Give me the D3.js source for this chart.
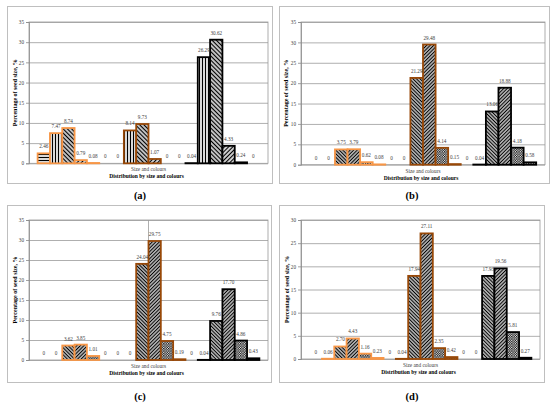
<!DOCTYPE html>
<html>
<head>
<meta charset="utf-8">
<script src="https://cdn.jsdelivr.net/npm/d3@7"></script>
<style>
  body { margin: 0; background: #fff; }
  text { font-family: "Liberation Serif", "Times New Roman", serif; }
</style>
</head>
<body>
<script>
// seed size fractions (6) inside each colour group (orange, brown, black)
var colourGroups = ["orange", "brown", "black"];
var groupColours = ["#f79646", "#984807", "#000000"];
var panelCaptions = ["(a)", "(b)", "(c)", "(d)"];

var valuesA = [[2.46, 7.47, 8.74, 0.79, 0.08, 0],
               [0, 8.14, 9.73, 1.07, 0, 0],
               [0.04, 26.29, 30.62, 4.33, 0.24, 0]];
var valuesB = [[0, 0, 3.75, 3.79, 0.62, 0.08],
               [0, 0, 21.29, 29.48, 4.14, 0.15],
               [0, 0.04, 13.06, 18.88, 4.18, 0.58]];
var valuesC = [[0, 0, 3.62, 3.85, 1.01, 0],
               [0, 0, 24.04, 29.75, 4.75, 0.19],
               [0, 0.04, 9.76, 17.70, 4.86, 0.43]];
var valuesD = [[0, 0.06, 2.70, 4.43, 1.16, 0.23],
               [0, 0.04, 17.94, 27.11, 2.35, 0.42],
               [0, 0, 17.93, 19.56, 5.81, 0.27]];

var yMaxes = [35, 35, 35, 30];
var xTickLabel = "Size and colours";
var xTitle = "Distribution by size and colours";
var yTitle = "Percentage of seed size, %";

var allValues = [valuesA, valuesB, valuesC, valuesD];

// fill pattern per size fraction
var patternsA = ["hz", "vt", "dd", "du", "dots", "dots"];
var patternsBCD = ["hz", "vt", "dd2", "du2", "dots", "dots"];

var layout = [
  {frame: [7, 6, 272, 183],   plot: [29, 22, 268, 163.3],  cap: [140, 198.5], yt: 15},
  {frame: [279, 6, 549, 183], plot: [301, 22, 545, 164.7], cap: [412, 198.5], yt: 286},
  {frame: [7, 205, 271, 382], plot: [29, 220, 268, 360],  cap: [140, 399.5], yt: 15},
  {frame: [279, 205, 544, 382], plot: [301, 220, 540, 359], cap: [412, 399.5], yt: 287}
];

var svg = d3.select("body").append("svg")
    .attr("width", 550)
    .attr("height", 405);

var defs = svg.append("defs");

function linePattern(id, size, angle, sw) {
  var p = defs.append("pattern")
      .attr("id", id)
      .attr("patternUnits", "userSpaceOnUse")
      .attr("width", size).attr("height", size);
  if (angle !== null) p.attr("patternTransform", "rotate(" + angle + ")");
  p.append("rect").attr("width", size).attr("height", size).attr("fill", "#fff");
  p.append("line")
      .attr("x1", size / 2).attr("x2", size / 2)
      .attr("y1", 0).attr("y2", size)
      .attr("stroke", "#000").attr("stroke-width", sw);
}
linePattern("vt", 3, null, 1.3);
linePattern("hz", 3, 90, 1.3);
linePattern("dd", 3, -45, 1.5);
linePattern("du", 3, 45, 1.4);
linePattern("dd2", 2.5, -45, 1.4);
linePattern("du2", 2.5, 45, 1.4);

var dots = defs.append("pattern")
    .attr("id", "dots")
    .attr("patternUnits", "userSpaceOnUse")
    .attr("width", 2.4).attr("height", 2.4);
dots.append("rect").attr("width", 2.4).attr("height", 2.4).attr("fill", "#fff");
dots.append("rect").attr("width", 1.3).attr("height", 1.3).attr("fill", "#000");
dots.append("rect").attr("x", 1.2).attr("y", 1.2).attr("width", 1.3).attr("height", 1.3).attr("fill", "#000");

var fmt = function(v) { return v === 0 ? "0" : v.toFixed(2); };

allValues.forEach(function(vals, pi) {
  var L = layout[pi];
  var pl = L.plot[0], pt = L.plot[1], pr = L.plot[2], pb = L.plot[3];
  var pats = pi === 0 ? patternsA : patternsBCD;

  // flatten into 18 slots
  var slots = [];
  vals.forEach(function(row, g) {
    row.forEach(function(v, s) {
      slots.push({v: v, g: g, s: s});
    });
  });

  var g = svg.append("g");

  g.append("rect")
      .attr("x", L.frame[0] + 0.5).attr("y", L.frame[1] + 0.5)
      .attr("width", L.frame[2] - L.frame[0]).attr("height", L.frame[3] - L.frame[1])
      .attr("fill", "#fff").attr("stroke", "#bfbfbf").attr("stroke-width", 1);

  var x = d3.scaleBand()
      .domain(d3.range(slots.length))
      .range([pl, pr])
      .paddingInner(0)
      .paddingOuter(0.7);

  var y = d3.scaleLinear()
      .domain([0, yMaxes[pi]])
      .range([pb, pt]);

  var ticks = d3.range(0, yMaxes[pi] + 1, 5);

  // gridlines
  g.append("g")
      .attr("transform", "translate(" + pl + ",0)")
      .call(d3.axisLeft(y).tickValues(ticks).tickSize(-(pr - pl)).tickFormat(""))
      .call(function(a) {
        a.select(".domain").remove();
        a.selectAll("line").attr("stroke", "#9a9a9a").attr("stroke-width", 0.8);
      });

  g.append("rect")
      .attr("x", pl).attr("y", pt)
      .attr("width", pr - pl).attr("height", pb - pt)
      .attr("fill", "none").attr("stroke", "#9a9a9a").attr("stroke-width", 0.8);

  if (pi === 2) {
    g.append("line")
        .attr("x1", (pl + pr) / 2).attr("x2", (pl + pr) / 2)
        .attr("y1", pt).attr("y2", pb)
        .attr("stroke", "#9a9a9a").attr("stroke-width", 0.8);
  }

  // y axis with labels
  g.append("g")
      .attr("transform", "translate(" + pl + ",0)")
      .call(d3.axisLeft(y).tickValues(ticks).tickSize(3).tickPadding(2))
      .call(function(a) {
        a.select(".domain").attr("stroke", "#8a8a8a").attr("stroke-width", 0.8);
        a.selectAll("line").attr("stroke", "#8a8a8a").attr("stroke-width", 0.8);
        a.selectAll("text")
            .attr("font-family", "Liberation Serif")
            .attr("font-size", 5.2).attr("fill", "#404040");
      });

  // bars
  g.selectAll("rect.bar")
      .data(slots.filter(function(d) { return d.v > 0; }))
      .enter().append("rect")
      .attr("class", "bar")
      .attr("x", function(d) { return x(slots.indexOf(d)); })
      .attr("y", function(d) { return y(d.v); })
      .attr("width", x.bandwidth())
      .attr("height", function(d) { return pb - y(d.v); })
      .attr("fill", function(d) { return "url(#" + pats[d.s] + ")"; })
      .attr("stroke", function(d) { return groupColours[d.g]; })
      .attr("stroke-width", 1.8);

  // value labels
  g.selectAll("text.val")
      .data(slots)
      .enter().append("text")
      .attr("class", "val")
      .attr("x", function(d, i) { return x(i) + x.bandwidth() / 2; })
      .attr("y", function(d) { return y(d.v) - 5; })
      .attr("text-anchor", "middle")
      .attr("font-size", 5.2)
      .attr("fill", "#404040")
      .text(function(d) { return fmt(d.v); });

  g.append("text")
      .attr("x", (pl + pr) / 2).attr("y", pb + 8)
      .attr("text-anchor", "middle")
      .attr("font-size", 5.3).attr("fill", "#404040")
      .text(xTickLabel);

  g.append("text")
      .attr("x", (pl + pr) / 2 - 2).attr("y", pb + 15)
      .attr("text-anchor", "middle")
      .attr("font-size", 5.5).attr("font-weight", "bold").attr("fill", "#000")
      .text(xTitle);

  g.append("text")
      .attr("transform", "translate(" + (L.yt + 2) + "," + (pt + pb) / 2 + ") rotate(-90)")
      .attr("text-anchor", "middle")
      .attr("font-size", 6).attr("font-weight", "bold").attr("fill", "#000")
      .text(yTitle);

  svg.append("text")
      .attr("x", L.cap[0]).attr("y", L.cap[1])
      .attr("text-anchor", "middle")
      .attr("font-size", 10.5).attr("font-weight", "bold").attr("fill", "#000")
      .style("font-family", "Liberation Serif")
      .text(panelCaptions[pi]);
});
</script>
</body>
</html>
